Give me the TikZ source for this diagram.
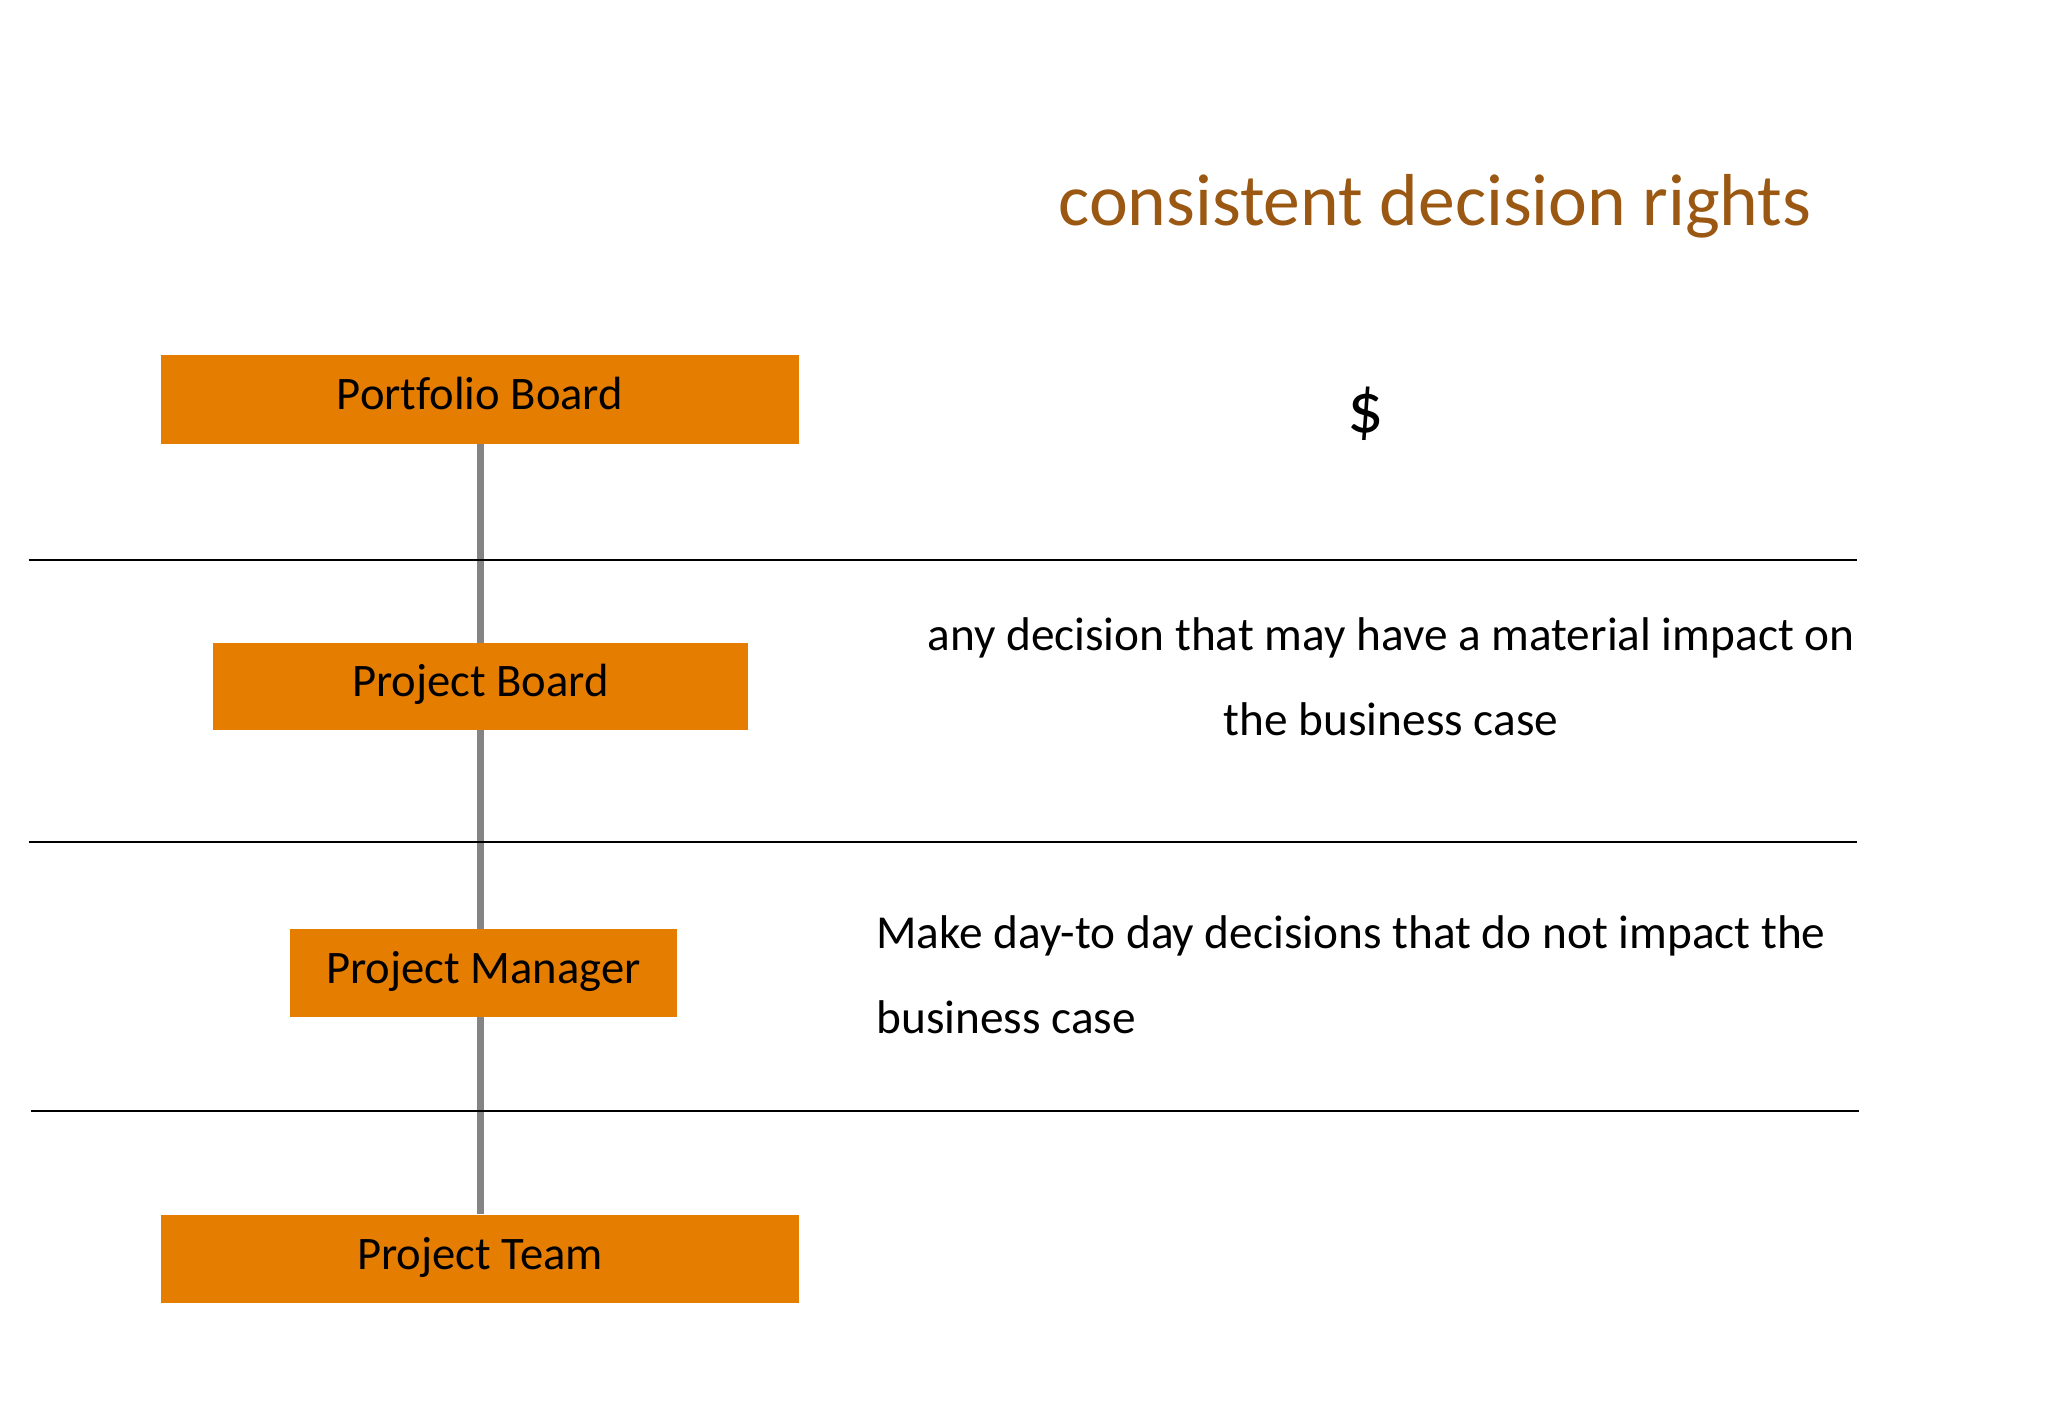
\documentclass[tikz,border=0pt]{standalone}
\usepackage{fontspec}
\setmainfont{Carlito}[Ligatures=NoCommon]
\usetikzlibrary{backgrounds}
\definecolor{boxorange}{HTML}{E47D00}
\definecolor{titlebrown}{HTML}{9A5812}
\definecolor{stemgray}{HTML}{858385}
\begin{document}
\begin{tikzpicture}[x=0.5pt,y=-0.5pt,
  rolebox/.style={fill=boxorange, draw=none, inner sep=0pt, text height=10pt, text depth=0pt, font=\fontsize{23.3}{28}\selectfont, text=black},
  sep/.style={draw=black, line width=1pt},
  stem/.style={draw=stemgray, line width=3.5pt},
  body/.style={font=\fontsize{23.65}{42.5}\selectfont, inner sep=0pt}]
\useasboundingbox (0,0) rectangle (2048,1418);

\node[font=\fontsize{36.8}{44}\selectfont, text=titlebrown, inner sep=0pt] (title) at (1435,206) {consistent decision rights};

\node[rolebox, minimum width=319.4pt, minimum height=44.4pt] (pb) at (480,399.6) {Portfolio Board};
\node[rolebox, minimum width=267.7pt, minimum height=43.8pt] (bd) at (480.6,686.3) {Project Board};
\node[rolebox, minimum width=193.3pt, minimum height=44.4pt] (pm) at (483.3,973) {Project Manager};
\node[rolebox, minimum width=319.4pt, minimum height=44.4pt] (pt) at (480,1259) {Project Team};

\begin{scope}[on background layer]
\fill[white] (0,0) rectangle (2048,1418);
\draw[stem] (pb.south) -- (pt.north);
\end{scope}

\draw[sep] (28.7,560.3) -- (1857,560.3);
\draw[sep] (28.7,842.4) -- (1857,842.4);
\draw[sep] (31.3,1111.4) -- (1858.5,1111.4);

\node[font=\fontsize{36}{40}\selectfont, inner sep=0pt] (dollar) at (1366,414) {\$};

\node[body, align=center] (anyd) at (1391,677) {any decision that may have a material impact on\\the business case};
\node[body, align=left, anchor=west] (make) at (876,975) {Make day-to day decisions that do not impact the\\business case};
\end{tikzpicture}
\end{document}
